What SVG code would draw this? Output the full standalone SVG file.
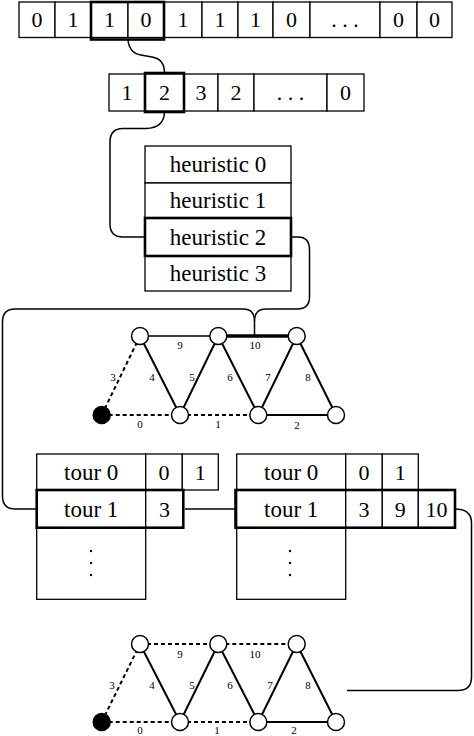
<svg xmlns="http://www.w3.org/2000/svg" width="474" height="736" viewBox="0 0 474 736">
<style>
.cell{fill:#fff;stroke:#000;stroke-width:1.3}
.thick{fill:none;stroke:#000;stroke-width:2.6}
.t{font-family:"Liberation Serif","Times New Roman",serif;font-size:22px;text-anchor:middle;fill:#000}
.h{font-size:23px}
.l{font-family:"Liberation Serif","Times New Roman",serif;font-size:11px;text-anchor:middle;fill:#000}
.con{fill:none;stroke:#000;stroke-width:1.5}
.e{stroke:#000;stroke-width:2}
.n{fill:#fff;stroke:#000;stroke-width:1.5}
.nb{fill:#000;stroke:#000;stroke-width:1.5}
</style>
<rect width="474" height="736" fill="#fff"/>

<g id="bitstring">
<rect class="cell" x="19" y="2" width="36" height="35.5"/>
<rect class="cell" x="55" y="2" width="36" height="35.5"/>
<rect class="cell" x="91" y="2" width="37" height="35.5"/>
<rect class="cell" x="128" y="2" width="36" height="35.5"/>
<rect class="cell" x="164" y="2" width="38" height="35.5"/>
<rect class="cell" x="202" y="2" width="36" height="35.5"/>
<rect class="cell" x="238" y="2" width="35" height="35.5"/>
<rect class="cell" x="273" y="2" width="37" height="35.5"/>
<rect class="cell" x="310" y="2" width="70" height="35.5"/>
<rect class="cell" x="380" y="2" width="37" height="35.5"/>
<rect class="cell" x="417" y="2" width="35" height="35.5"/>
<rect class="thick" x="91" y="2" width="73" height="37.5"/>
<text class="t" x="37" y="27">0</text>
<text class="t" x="73" y="27">1</text>
<text class="t" x="109.5" y="27">1</text>
<text class="t" x="146" y="27">0</text>
<text class="t" x="183" y="27">1</text>
<text class="t" x="220" y="27">1</text>
<text class="t" x="255.5" y="27">1</text>
<text class="t" x="291.5" y="27">0</text>
<text class="t" x="345" y="27">. . .</text>
<text class="t" x="398.5" y="27">0</text>
<text class="t" x="434.5" y="27">0</text>
</g>

<g id="selection">
<rect class="cell" x="109" y="74" width="36" height="37"/>
<rect class="cell" x="145" y="74" width="39" height="37"/>
<rect class="cell" x="184" y="74" width="34" height="37"/>
<rect class="cell" x="218" y="74" width="36" height="37"/>
<rect class="cell" x="254" y="74" width="73" height="37"/>
<rect class="cell" x="327" y="74" width="37" height="37"/>
<rect class="thick" x="145" y="73" width="39" height="39"/>
<text class="t" x="127" y="100">1</text>
<text class="t" x="164.5" y="100">2</text>
<text class="t" x="201" y="100">3</text>
<text class="t" x="236" y="100">2</text>
<text class="t" x="290.5" y="100">. . .</text>
<text class="t" x="345.5" y="100">0</text>
</g>

<g id="heuristics">
<rect class="cell" x="145" y="146" width="146" height="37"/>
<rect class="cell" x="145" y="183" width="146" height="35"/>
<rect class="cell" x="145" y="218" width="146" height="38"/>
<rect class="cell" x="145" y="256" width="146" height="35"/>
<rect class="thick" x="145" y="218" width="146" height="38"/>
<text class="t h" x="218" y="172">heuristic 0</text>
<text class="t h" x="218" y="208">heuristic 1</text>
<text class="t h" x="218" y="245">heuristic 2</text>
<text class="t h" x="218" y="281">heuristic 3</text>
</g>

<g id="connectors">
<path class="con" d="M128,39.5 Q129,53 141,55 L152,57 Q164.5,59 164.5,73"/>
<path class="con" d="M164.5,112 Q164,128 146,128.5 L123,128.5 Q110,128.5 110,142 L110,224 Q110,237 123,237 L145,237"/>
<path class="con" d="M291,237 L298,237 Q309.5,237 309.5,250 L309.5,297 Q309.5,309 297,309 L266,309 Q254.5,309 254.5,321 L254.5,336"/>
<path class="con" d="M254.5,321 Q254.5,309 243,309 L15,309 Q2.5,309 2.5,322 L2.5,496 Q2.5,509 15,509 L37,509"/>
<path class="con" d="M185,509 L235,509"/>
<path class="con" d="M455,509 Q471.5,509 471.5,523 L471.5,677 Q471.5,690.5 458,690.5 L347,690.5"/>
</g>

<g id="graph1">
<line class="e" x1="101.7" y1="415" x2="140" y2="336" style="stroke-dasharray:4 3"/>
<line class="e" x1="101.7" y1="415" x2="180" y2="415" style="stroke-dasharray:4 3"/>
<line class="e" x1="180" y1="415" x2="258.3" y2="415" style="stroke-dasharray:4 3"/>
<line class="e" x1="258.3" y1="415" x2="336" y2="415"/>
<line class="e" x1="140" y1="336" x2="218.3" y2="336" style="stroke-width:1.3"/>
<line class="e" x1="218.3" y1="336" x2="296.7" y2="336" style="stroke-width:3.5"/>
<line class="e" x1="140" y1="336" x2="180" y2="415"/>
<line class="e" x1="180" y1="415" x2="218.3" y2="336"/>
<line class="e" x1="218.3" y1="336" x2="258.3" y2="415"/>
<line class="e" x1="258.3" y1="415" x2="296.7" y2="336"/>
<line class="e" x1="296.7" y1="336" x2="336" y2="415"/>
<circle class="nb" cx="101.7" cy="415" r="8.5"/>
<circle class="n" cx="140" cy="336" r="8.5"/>
<circle class="n" cx="218.3" cy="336" r="8.5"/>
<circle class="n" cx="296.7" cy="336" r="8.5"/>
<circle class="n" cx="180" cy="415" r="8.5"/>
<circle class="n" cx="258.3" cy="415" r="8.5"/>
<circle class="n" cx="336" cy="415" r="8.5"/>
<text class="l" x="180" y="349">9</text>
<text class="l" x="255" y="349">10</text>
<text class="l" x="113" y="381">3</text>
<text class="l" x="152" y="381">4</text>
<text class="l" x="192" y="381">5</text>
<text class="l" x="230" y="381">6</text>
<text class="l" x="268" y="381">7</text>
<text class="l" x="308" y="381">8</text>
<text class="l" x="140" y="428">0</text>
<text class="l" x="218" y="428">1</text>
<text class="l" x="297" y="429">2</text>
</g>

<g id="table-left">
<rect class="cell" x="36.7" y="454" width="109" height="36"/>
<rect class="cell" x="145.7" y="454" width="36.6" height="36"/>
<rect class="cell" x="182.3" y="454" width="36" height="36"/>
<rect class="cell" x="36.7" y="490" width="109" height="37.7"/>
<rect class="cell" x="145.7" y="490" width="37.6" height="37.7"/>
<rect class="cell" x="36.7" y="527.7" width="109" height="71.6"/>
<rect class="thick" x="36.7" y="490" width="146.6" height="37.7"/>
<text class="t h" x="91.2" y="480">tour 0</text>
<text class="t" x="164" y="480">0</text>
<text class="t" x="200.3" y="480">1</text>
<text class="t h" x="91.2" y="517">tour 1</text>
<text class="t" x="164.5" y="517">3</text>
<circle cx="91" cy="551" r="1.2"/>
<circle cx="91" cy="563" r="1.2"/>
<circle cx="91" cy="575" r="1.2"/>
</g>

<g id="table-right">
<rect class="cell" x="236.7" y="454" width="109" height="36"/>
<rect class="cell" x="345.7" y="454" width="36.6" height="36"/>
<rect class="cell" x="382.3" y="454" width="36" height="36"/>
<rect class="cell" x="236.7" y="490" width="109" height="37.7"/>
<rect class="cell" x="345.7" y="490" width="36.6" height="37.7"/>
<rect class="cell" x="382.3" y="490" width="36" height="37.7"/>
<rect class="cell" x="418.3" y="490" width="36.7" height="37.7"/>
<rect class="cell" x="236.7" y="527.7" width="109" height="71.6"/>
<rect class="thick" x="235.5" y="490" width="219.5" height="37.7"/>
<text class="t h" x="291.2" y="480">tour 0</text>
<text class="t" x="364" y="480">0</text>
<text class="t" x="400.3" y="480">1</text>
<text class="t h" x="291.2" y="517">tour 1</text>
<text class="t" x="364" y="517">3</text>
<text class="t" x="400.3" y="517">9</text>
<text class="t" x="436.6" y="517">10</text>
<circle cx="290" cy="551" r="1.2"/>
<circle cx="290" cy="563" r="1.2"/>
<circle cx="290" cy="575" r="1.2"/>
</g>

<g id="graph2">
<line class="e" x1="101.7" y1="722" x2="140" y2="644" style="stroke-dasharray:4 3"/>
<line class="e" x1="101.7" y1="722" x2="180" y2="722" style="stroke-dasharray:4 3"/>
<line class="e" x1="180" y1="722" x2="258.3" y2="722" style="stroke-dasharray:4 3"/>
<line class="e" x1="258.3" y1="722" x2="336" y2="722"/>
<line class="e" x1="140" y1="644" x2="218.3" y2="644" style="stroke-dasharray:4 3"/>
<line class="e" x1="218.3" y1="644" x2="296.7" y2="644" style="stroke-dasharray:4 3"/>
<line class="e" x1="140" y1="644" x2="180" y2="722"/>
<line class="e" x1="180" y1="722" x2="218.3" y2="644"/>
<line class="e" x1="218.3" y1="644" x2="258.3" y2="722"/>
<line class="e" x1="258.3" y1="722" x2="296.7" y2="644"/>
<line class="e" x1="296.7" y1="644" x2="336" y2="722"/>
<circle class="nb" cx="101.7" cy="722" r="8.5"/>
<circle class="n" cx="140" cy="644" r="8.5"/>
<circle class="n" cx="218.3" cy="644" r="8.5"/>
<circle class="n" cx="296.7" cy="644" r="8.5"/>
<circle class="n" cx="180" cy="722" r="8.5"/>
<circle class="n" cx="258.3" cy="722" r="8.5"/>
<circle class="n" cx="336" cy="722" r="8.5"/>
<text class="l" x="180" y="658">9</text>
<text class="l" x="255" y="658">10</text>
<text class="l" x="112" y="689">3</text>
<text class="l" x="152" y="689">4</text>
<text class="l" x="192" y="689">5</text>
<text class="l" x="230" y="689">6</text>
<text class="l" x="270" y="689">7</text>
<text class="l" x="308" y="689">8</text>
<text class="l" x="140" y="734">0</text>
<text class="l" x="217" y="734">1</text>
<text class="l" x="294" y="734">2</text>
</g>
</svg>
